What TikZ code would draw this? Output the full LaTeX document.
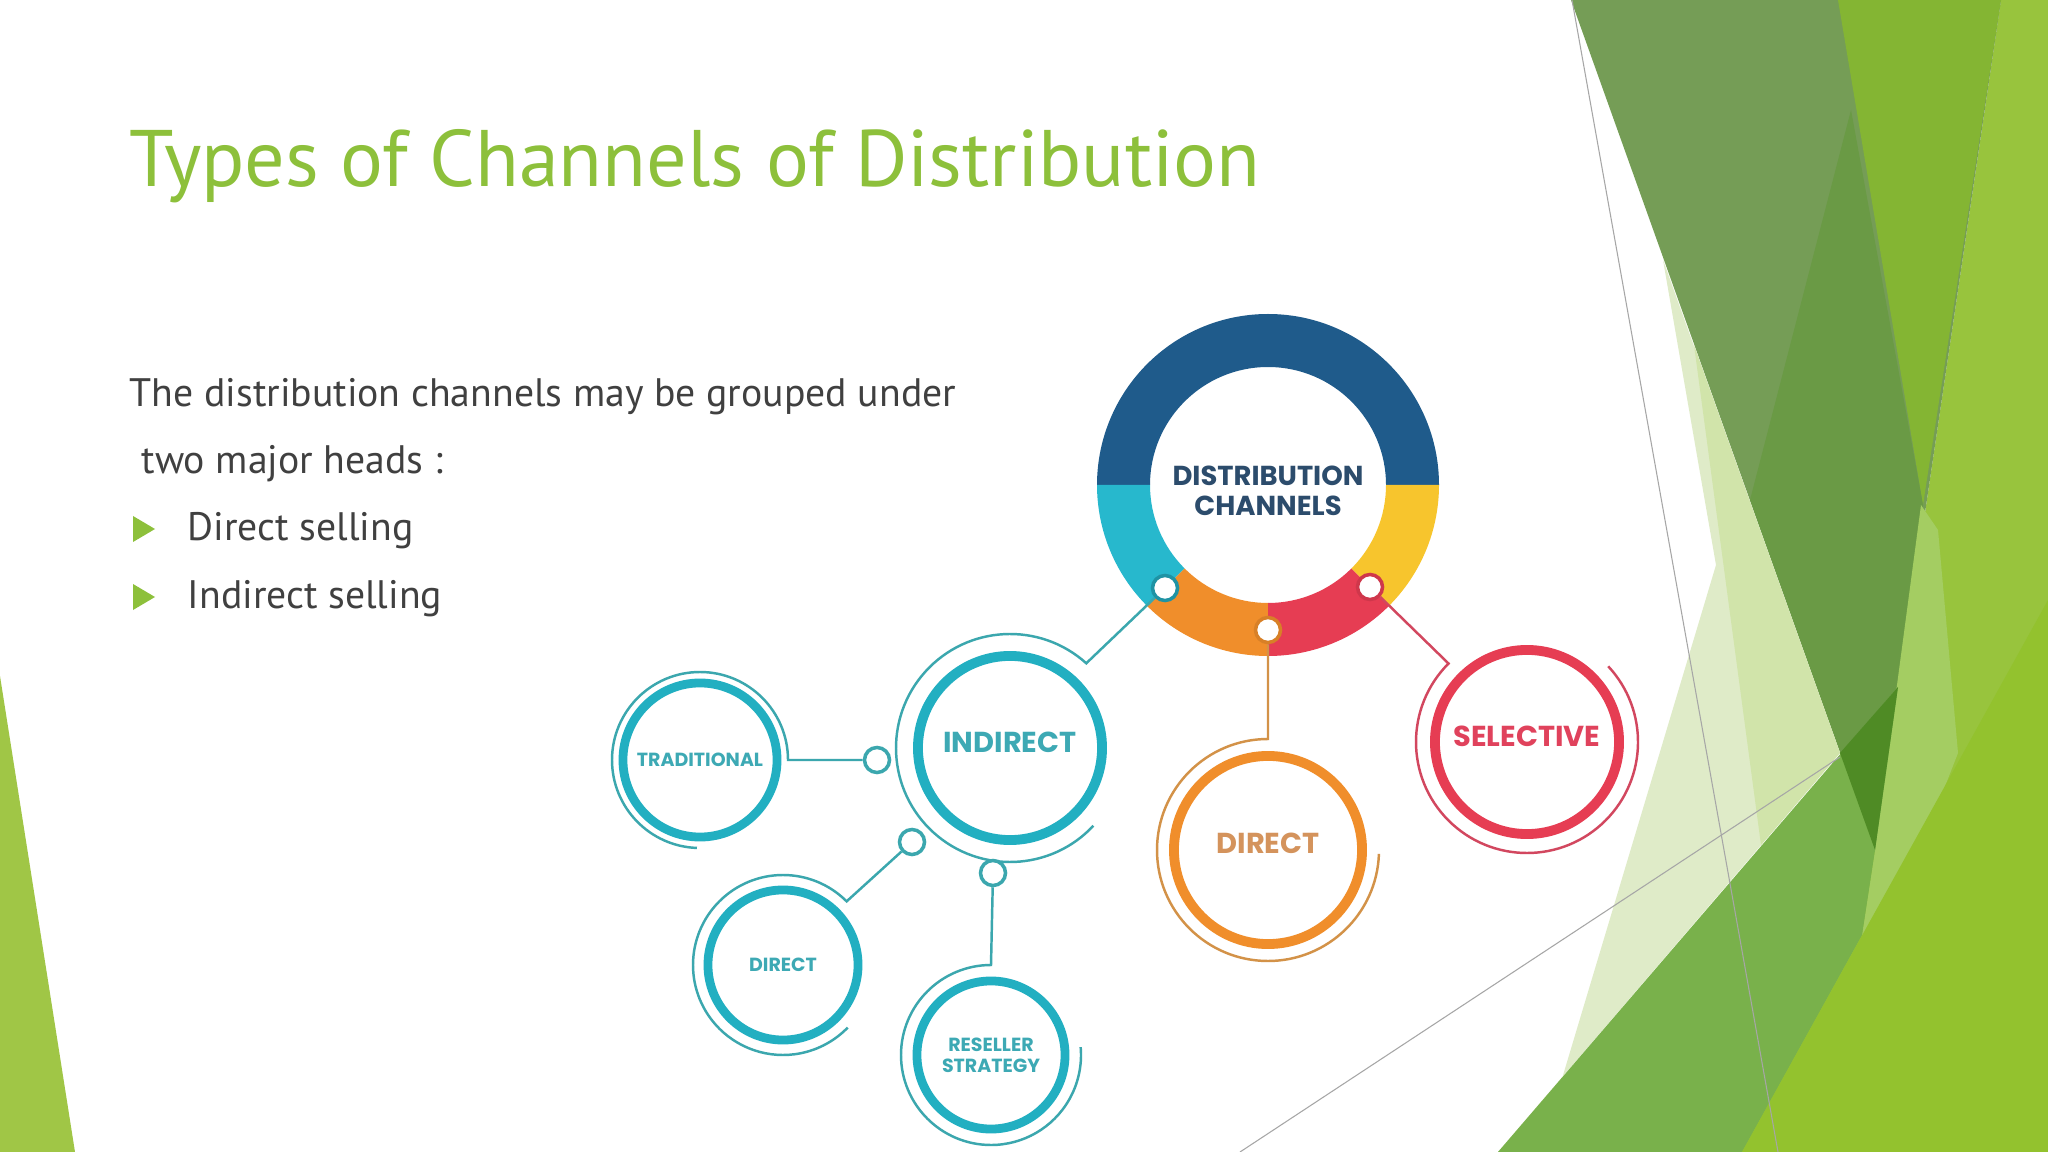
\documentclass[tikz,border=0pt]{standalone}
\usepackage{fontspec}
\setmainfont{PT Sans}
\newfontfamily\circfont{Poppins}
\usetikzlibrary{calc}

\definecolor{slidegreen}{HTML}{8DC03B}
\definecolor{bodygray}{HTML}{404040}
\definecolor{leafgrn}{HTML}{A0C646}
\definecolor{yellowgrn}{HTML}{98C43D}
\definecolor{olivegrn}{HTML}{759D56}
\definecolor{brightgrn}{HTML}{84B533}
\definecolor{midgrn}{HTML}{6A9A45}
\definecolor{palegrn}{HTML}{DFEBC8}
\definecolor{palegrnb}{HTML}{D1E4AA}
\definecolor{lightgrn}{HTML}{A4CD62}
\definecolor{grassgrn}{HTML}{79B14B}
\definecolor{darkgrn}{HTML}{4F8B25}
\definecolor{limegrn}{HTML}{93C22E}
\definecolor{ringblue}{HTML}{1F5B8B}
\definecolor{ringcyan}{HTML}{27B8CD}
\definecolor{ringorange}{HTML}{F08E2B}
\definecolor{ringred}{HTML}{E63D53}
\definecolor{ringyellow}{HTML}{F7C52D}
\definecolor{hubtext}{HTML}{2C4C6C}
\definecolor{tealring}{HTML}{22AFC1}
\definecolor{tealline}{HTML}{3BA7AE}
\definecolor{tealtext}{HTML}{3DA9B4}
\definecolor{orgline}{HTML}{D39248}
\definecolor{orgtext}{HTML}{D4935C}
\definecolor{redline}{HTML}{D2475F}
\definecolor{redtext}{HTML}{E0425C}

\begin{document}
\begin{tikzpicture}[x=0.01cm, y=0.01cm,
    ring/.style={circle, draw=#1, line width=2.8pt, inner sep=0pt},
    trail/.style={draw=#1, line width=0.7pt},
    dot/.style={circle, draw=#1, fill=white, line width=1pt, inner sep=0pt, minimum size=0.25cm},
    bigtxt/.style={font=\circfont\bfseries\fontsize{8.2}{9}\selectfont, align=center},
    smalltxt/.style={font=\circfont\bfseries\fontsize{5.4}{6}\selectfont, align=center},
    bodytxt/.style={anchor=base west, inner sep=0pt, text=bodygray, font=\fontsize{11.3}{13}\selectfont}]

    \fill[white] (0,0) rectangle (2048,-1152);
    \useasboundingbox (0,0) rectangle (2048,-1152);

    % Fondo: triangulos verdes
    \fill[leafgrn]   (0,-676) -- (75,-1152) -- (0,-1152) -- cycle;
    \fill[yellowgrn] (2001,0) -- (2048,0) -- (2048,-1152) -- (1700,-1152) -- (1875,-850) -- cycle;
    \fill[olivegrn]  (1571,0) -- (2001,0) -- (1875,-850) -- cycle;
    \fill[brightgrn] (1838,0) -- (2001,0) -- (1923,-505) -- cycle;
    \fill[midgrn]    (1851,-110) -- (1923,-505) -- (1875,-850) -- (1750,-500) -- cycle;
    \fill[palegrn]   (1663,-260) -- (1716,-565) -- (1540,-1152) -- (1498,-1152) -- (1840,-753) -- cycle;
    \fill[palegrnb]  (1694,-345) -- (1761,-845) -- (1840,-753) -- cycle;
    \fill[lightgrn]  (1921,-505) -- (1938,-530) -- (1958,-753) -- (1887,-935) -- (1862,-935) -- (1875,-850) -- cycle;
    \fill[grassgrn]  (1498,-1152) -- (1898,-687) -- (1875,-850) -- (1862,-935) -- (1742,-1152) -- cycle;
    \fill[darkgrn]   (1840,-753) -- (1898,-687) -- (1875,-850) -- cycle;
    \fill[limegrn]   (2048,-600) -- (2048,-1152) -- (1742,-1152) -- cycle;
    \draw[black!35, line width=0.3pt] (1572,0) -- (1778,-1152);
    \draw[black!35, line width=0.3pt] (1240,-1152) -- (1840,-757);

    % Titulo y texto
    \node[anchor=base west, inner sep=0pt, text=slidegreen, font=\fontsize{22.8}{28}\selectfont] (title) at (129,-187) {Types of Channels of Distribution};
    \node[bodytxt] (intro1) at (129,-407) {The distribution channels may be grouped under};
    \node[bodytxt] (intro2) at (141,-474) {two major heads :};
    \node[bodytxt] (item1) at (187,-541) {Direct selling};
    \node[bodytxt] (item2) at (187,-609) {Indirect selling};
    \fill[slidegreen] (133,-516) -- (133,-542) -- (155,-529) -- cycle;
    \fill[slidegreen] (133,-584) -- (133,-610) -- (155,-597) -- cycle;

    % Anillo central
    \begin{scope}[shift={(1268,-485)}]
        \fill[ringblue]   (0:171)   arc (0:180:171)   -- (180:118) arc (180:0:118)   -- cycle;
        \fill[ringcyan]   (180:171) arc (180:225:171) -- (225:118) arc (225:180:118) -- cycle;
        \fill[ringorange] (225:171) arc (225:270:171) -- (270:118) arc (270:225:118) -- cycle;
        \fill[ringred]    (270:171) arc (270:315:171) -- (315:118) arc (315:270:118) -- cycle;
        \fill[ringyellow] (315:171) arc (315:360:171) -- (360:118) arc (360:315:118) -- cycle;
    \end{scope}
    \node[font=\circfont\bfseries\fontsize{7.8}{8.6}\selectfont, align=center, text=hubtext] (hub) at (1268,-491) {DISTRIBUTION\\CHANNELS};
    \node[dot=ringcyan!80!black]   (hubl) at (1165,-588) {};
    \node[dot=ringorange!90!black] (hubb) at (1268,-630) {};
    \node[dot=ringred!90!black]    (hubr) at (1370,-587) {};

    % Circulos
    \node[ring=tealring, minimum size=1.84cm, bigtxt, text=tealtext] (ind) at (1010,-748) {\raisebox{3pt}{INDIRECT}};
    \node[ring=ringorange, minimum size=1.88cm, bigtxt, text=orgtext] (dir) at (1268,-850) {\raisebox{4pt}{DIRECT}};
    \node[ring=ringred, minimum size=1.84cm, bigtxt, text=redtext] (sel) at (1527,-742) {\raisebox{3pt}{SELECTIVE}};
    \node[ring=tealring, minimum size=1.54cm, smalltxt, text=tealtext, line width=2.5pt] (trad) at (700,-760) {TRADITIONAL};
    \node[ring=tealring, minimum size=1.50cm, smalltxt, text=tealtext, line width=2.5pt] (dirs) at (783,-965) {DIRECT};
    \node[ring=tealring, minimum size=1.48cm, smalltxt, text=tealtext, line width=2.5pt] (res) at (991,-1055) {RESELLER\\STRATEGY};

    \node[dot=tealline] (tdot) at (877,-760) {};
    \node[dot=tealline] (ddot) at (912,-842) {};
    \node[dot=tealline] (rdot) at (993,-873) {};

    % Conectores y arcos exteriores
    \coordinate (ind-a)  at ($(ind)+(48:114)$);
    \coordinate (dir-a)  at ($(dir)+(90:111)$);
    \coordinate (sel-a)  at ($(sel)+(135:111)$);
    \coordinate (trad-a) at ($(trad)+(0:88)$);
    \coordinate (dirs-a) at ($(dirs)+(45:90)$);
    \coordinate (res-a)  at ($(res)+(90:90)$);

    \draw[trail=tealline] (hubl) -- (ind-a) arc (48:317:114);
    \draw[trail=orgline]  (hubb) -- (dir-a) arc (90:358:111);
    \draw[trail=redline]  (hubr) -- (sel-a) arc (135:403:111);
    \draw[trail=tealline] (tdot) -- (trad-a) arc (0:268:88);
    \draw[trail=tealline] (ddot) -- (dirs-a) arc (45:316:90);
    \draw[trail=tealline] (rdot) -- (res-a) arc (90:365:90);
\end{tikzpicture}
\end{document}
